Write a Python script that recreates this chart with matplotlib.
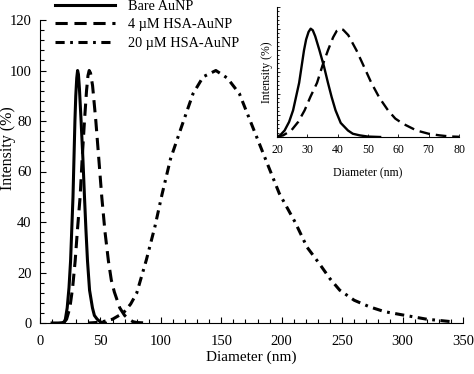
import matplotlib
matplotlib.use("Agg")
import matplotlib.pyplot as plt
from matplotlib.ticker import MultipleLocator

plt.rcParams['font.family'] = ['Liberation Serif', 'DejaVu Serif']

### Data
bare_d = [10, 15, 18, 20, 21, 22.5, 24, 25.3, 27.3, 28.9, 29.6, 30.4, 31.1, 31.8, 32.6,
          34, 35.5, 36.8, 38, 39.3, 41, 43.4, 45, 47.3, 50, 54]
bare_i = [0, 0, 0.1, 0.4, 1.5, 6, 14, 24.6, 50, 80, 90, 97, 100, 98.5, 93,
          80, 65, 50, 37, 24.6, 13, 6, 3, 1.5, 0.4, 0]

hsa4_d = [20, 22, 24.7, 27, 29.1, 31, 33.2, 35, 36.8, 38.5, 39.7, 40.7, 41.8, 43.5, 46.2,
          48.5, 51.1, 53.8, 56.6, 59, 61.5, 66, 70, 73.6, 77, 80, 88]
hsa4_i = [0.3, 1.5, 6, 14, 24.6, 37, 50, 66, 80, 92, 98, 100, 99, 94, 80,
          66, 50, 36, 24.6, 17, 12.3, 6, 3, 1.5, 0.5, 0.2, 0]

hsa20_d = [40, 50, 60, 69, 75, 80, 88, 95, 101, 108, 117, 126.6, 135, 145.5, 155,
           165, 176, 187, 198, 211, 221, 231, 240, 248, 260, 272.7, 285, 300, 320, 341]
hsa20_i = [0, 0.3, 1.5, 4, 7.5, 11.8, 25, 38, 51, 65, 77.6, 90.8, 97.5, 100, 97,
           90.8, 77.6, 64.4, 51.3, 40, 30, 23.6, 17.5, 13, 9, 6.4, 4.5, 3.2, 1.5, 0.5]

labels = ["Bare AuNP", "4 \u00b5M HSA-AuNP", "20 \u00b5M HSA-AuNP"]

### Figure
fig = plt.figure(figsize=(4.74, 3.74), dpi=100)
ax = fig.add_axes([40/474, 1-323/374, 423/474, 303/374])

lw = 2.2
l1, = ax.plot(bare_d, bare_i, color="black", lw=lw, ls="-")
l2, = ax.plot(hsa4_d, hsa4_i, color="black", lw=lw, ls=(0, (4.0, 2.2)))
l3, = ax.plot(hsa20_d, hsa20_i, color="black", lw=lw, ls=(0, (3.0, 1.8, 0.9, 1.8)))

ax.set_xlim(0, 350)
ax.set_ylim(0, 120)
ax.xaxis.set_major_locator(MultipleLocator(50))
ax.xaxis.set_minor_locator(MultipleLocator(10))
ax.yaxis.set_major_locator(MultipleLocator(20))
ax.yaxis.set_minor_locator(MultipleLocator(4))
ax.tick_params(which="both", direction="in", width=0.8, labelsize=10.5)
ax.tick_params(which="major", length=4)
ax.tick_params(which="minor", length=3)
ax.tick_params(axis="x", pad=8.5)
ax.tick_params(axis="y", pad=6)
for s in ["top", "right"]:
    ax.spines[s].set_visible(False)
for s in ["left", "bottom"]:
    ax.spines[s].set_linewidth(0.8)
ax.set_xlabel("Diameter (nm)", fontsize=11)
ax.set_ylabel("Intensity (%)", fontsize=11.5)
ax.xaxis.set_label_coords(0.5, -0.092)
ax.yaxis.set_label_coords(-0.056, 0.578)

ax.legend([l1, l2, l3], labels, loc="upper left", frameon=False, fontsize=10.3,
          bbox_to_anchor=(55/474, 374/374), bbox_transform=fig.transFigure,
          handlelength=4.2, handletextpad=0.9, labelspacing=0.38,
          borderpad=0, borderaxespad=0)

### Inset
axi = fig.add_axes([277/474, 1-137/374, 182/474, 130/374])
axi.plot(bare_d, bare_i, color="black", lw=1.7, ls="-")
axi.plot(hsa4_d, hsa4_i, color="black", lw=1.7, ls=(0, (4.5, 2.5)))
axi.set_xlim(20, 80)
axi.set_ylim(0, 120)
axi.xaxis.set_major_locator(MultipleLocator(10))
axi.yaxis.set_major_locator(MultipleLocator(20))
axi.yaxis.set_minor_locator(MultipleLocator(4))
axi.tick_params(which="both", direction="in", width=0.6, labelsize=8.5)
axi.tick_params(which="major", length=2)
axi.tick_params(which="minor", length=1.5)
axi.tick_params(axis="y", labelleft=False)
axi.tick_params(axis="x", pad=5)
for s in ["top", "right"]:
    axi.spines[s].set_visible(False)
for s in ["left", "bottom"]:
    axi.spines[s].set_linewidth(0.8)
axi.set_xlabel("Diameter (nm)", fontsize=8.5)
axi.set_ylabel("Intensity (%)", fontsize=8.5)
axi.xaxis.set_label_coords(0.5, -0.23)
axi.yaxis.set_label_coords(-0.022, 0.5)

fig.savefig("out.png", dpi=100)
